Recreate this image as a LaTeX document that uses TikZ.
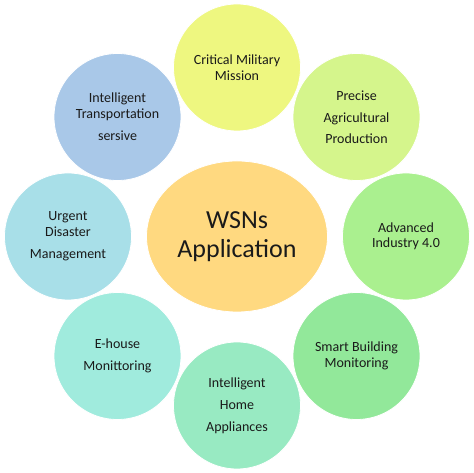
\documentclass[tikz,border=0pt]{standalone}
\usepackage{fontspec}
\setmainfont{Carlito}
\usepackage{tikz}
\usetikzlibrary{shapes.geometric}
\definecolor{wsncol}{HTML}{FFD980}
\definecolor{milcol}{HTML}{EEF780}
\definecolor{agrcol}{HTML}{D5F58C}
\definecolor{indcol}{HTML}{AAF08F}
\definecolor{bldcol}{HTML}{92E89A}
\definecolor{homcol}{HTML}{98EAC2}
\definecolor{houcol}{HTML}{A0EBDD}
\definecolor{discol}{HTML}{A8DFE8}
\definecolor{trncol}{HTML}{A9C8E8}
\definecolor{txtcol}{HTML}{1A1A1A}

\tikzset{
  app/.style={circle, draw=white, line width=0.8pt, minimum size=127pt, inner sep=0pt,
    align=center, text=txtcol, font=\fontsize{14}{15.5}\selectfont},
  hub/.style={ellipse, draw=white, line width=0.8pt, minimum width=181pt, minimum height=151pt,
    inner sep=0pt, align=center, text=txtcol, font=\fontsize{26}{29}\selectfont}
}

\begin{document}
\begin{tikzpicture}
\useasboundingbox (0,0) rectangle (474pt,473pt);
\begin{scope}[shift={(237pt,236.5pt)}]
\node[hub, fill=wsncol] (wsn) at (0,0) {WSNs\\Application};
% ring of applications
\node[app, fill=milcol] (mil) at (90:169pt) {Critical Military\\Mission};
\node[app, fill=agrcol] (agr) at (45:169pt) {Precise\\[6.5pt]Agricultural\\[6pt]Production};
\node[app, fill=indcol] (ind) at (0:169pt) {Advanced\\Industry 4.0};
\node[app, fill=bldcol] (bld) at (-45:169pt) {Smart Building\\Monitoring};
\node[app, fill=homcol] (hom) at (-90:169pt) {Intelligent\\[6.5pt]Home\\[6.5pt]Appliances};
\node[app, fill=houcol] (hou) at (-135:169pt) {E-house\\[6.5pt]Monittoring};
\node[app, fill=discol] (dis) at (180:169pt) {Urgent\\Disaster\\[7pt]Management};
\node[app, fill=trncol] (trn) at (135:169pt) {Intelligent\\Transportation\\[7pt]sersive};
\end{scope}
\end{tikzpicture}
\end{document}
